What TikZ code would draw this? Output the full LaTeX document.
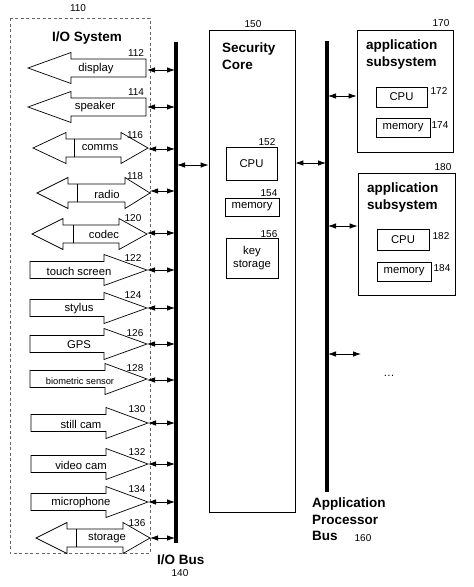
\documentclass[tikz,border=0pt]{standalone}
\usepackage{fontspec}
\setmainfont{Liberation Sans}
\usetikzlibrary{arrows.meta}
\newcommand\ioL[4]{% tip x, base x, right x, center y
  \draw[shp] (#1,#4) -- (#2,{#4-15.5}) -- (#2,{#4-9}) -- (#3,{#4-9}) -- (#3,{#4+9}) -- (#2,{#4+9}) -- (#2,{#4+15.5}) -- cycle;}
\newcommand\ioR[4]{% left x, base x, tip x, center y
  \draw[shp] (#1,{#4-8.5}) -- (#2,{#4-8.5}) -- (#2,{#4-15.5}) -- (#3,#4) -- (#2,{#4+15.5}) -- (#2,{#4+8.5}) -- (#1,{#4+8.5}) -- cycle;}
\newcommand\ioD[6]{% left tip, left base, divider, right base, right tip, center y
  \draw[shp] (#1,#6) -- (#2,{#6-15.5}) -- (#2,{#6-9}) -- (#4,{#6-9}) -- (#4,{#6-15.5}) -- (#5,#6) -- (#4,{#6+15.5}) -- (#4,{#6+9}) -- (#2,{#6+9}) -- (#2,{#6+15.5}) -- cycle;
  \draw[shp] (#3,{#6-9}) -- (#3,{#6+9});}
\begin{document}
\begin{tikzpicture}[x=1pt,y=-1pt,
  shp/.style={draw=black,line width=0.7pt,line join=miter},
  box/.style={draw=black,line width=0.7pt},
  bus/.style={line width=3.2pt,black},
  conn/.style={line width=0.8pt,{Latex[length=8pt,width=5.5pt]}-{Latex[length=8pt,width=5.5pt]}},
  num/.style={font=\fontsize{10}{12}\selectfont,inner sep=0pt},
  lbl/.style={font=\fontsize{11.3}{13}\selectfont,inner sep=0pt},
  ttl/.style={font=\fontsize{13.5}{17}\selectfont\bfseries,inner sep=0pt,align=left}]
\useasboundingbox (0,0) rectangle (474,587);
% I/O system frame
\draw[line width=0.7pt,gray!80!black,dash pattern=on 3pt off 2.5pt] (10,18) rectangle (150,553);
\node[num] (n110) at (78,8) {110};
\node[ttl] (iot) at (87,38) {I/O System};
% buses
\coordinate (iotop) at (176,42);
\coordinate (iobot) at (176,543);
\draw[bus] (iotop) -- (iobot);
\coordinate (aptop) at (327,41);
\coordinate (apbot) at (327,492);
\draw[bus] (aptop) -- (apbot);
\node[ttl,anchor=west] (iobus) at (157,560) {I/O Bus};
\node[num] (n140) at (180,573) {140};
\node[ttl,anchor=north west,font=\fontsize{13.5}{16.5}\selectfont\bfseries] (apbus) at (312,498) {Application\\Processor\\Bus};
\node[num] (n160) at (363,538) {160};
% I/O devices
\ioL{28}{71}{146}{68}
\node[lbl] (display) at (96,69) {display};
\node[num] (n112) at (136,53) {112};
\ioL{28}{71}{146}{107}
\node[lbl] (speaker) at (95,107) {speaker};
\node[num] (n114) at (136,92) {114};
\ioD{33}{66}{74}{121}{148}{148}
\node[lbl] (comms) at (100,148) {comms};
\node[num] (n116) at (135,135) {116};
\ioD{37}{68}{77}{125}{150}{193}
\node[lbl] (radio) at (107,194) {radio};
\node[num] (n118) at (135,176) {118};
\ioD{32}{63}{73}{119}{147}{234}
\node[lbl] (codec) at (104,234) {codec};
\node[num] (n120) at (133,218) {120};
\ioR{30}{104}{147}{270}
\node[lbl] (touch) at (79,271) {touch screen};
\node[num] (n122) at (133,258) {122};
\ioR{30}{104}{147}{308}
\node[lbl] (stylus) at (79,309) {stylus};
\node[num] (n124) at (133,295) {124};
\ioR{30}{104}{147}{344}
\node[lbl] (gps) at (79,345) {GPS};
\node[num] (n126) at (135,333) {126};
\ioR{30}{105}{147}{379}
\node[lbl,font=\fontsize{9.3}{11}\selectfont] (bio) at (80,381) {biometric sensor};
\node[num] (n128) at (135,368) {128};
\ioR{31}{106}{148}{423}
\node[lbl] (still) at (81,424) {still cam};
\node[num] (n130) at (137,409) {130};
\ioR{31}{106}{148}{464}
\node[lbl] (video) at (81,465) {video cam};
\node[num] (n132) at (137,452) {132};
\ioR{31}{106}{148}{502}
\node[lbl] (micro) at (81,503) {microphone};
\node[num] (n134) at (137,489) {134};
\ioD{36}{67}{76}{123}{150}{538}
\node[lbl] (storage) at (107,538) {storage};
\node[num] (n136) at (137,523) {136};
% I/O connectors
\foreach \yy/\xx in {70/147,107/147,149/148,191/150,233/147,270/147,308/147,344/147,380/147,423/148,464/148,502/148,538/150}{
  \coordinate (a) at (\xx,\yy);
  \coordinate (b) at (175,\yy);
  \draw[conn] (a) -- (b);
}
% Security core
\node[box,minimum width=86pt,minimum height=482pt,inner sep=0pt] (core) at (252,271) {};
\node[num] (n150) at (253,24) {150};
\node[ttl,anchor=north west] (coret) at (222,43) {Security\\Core};
\node[box,lbl,minimum width=51pt,minimum height=33pt] (ccpu) at (251.5,163.5) {CPU};
\node[num] (n152) at (267,142) {152};
\node[box,lbl,minimum width=54pt,minimum height=18pt] (cmem) at (252,207) {memory};
\node[num] (n154) at (269,193) {154};
\node[box,lbl,minimum width=52pt,minimum height=40pt,align=center] (ckey) at (252,258) {key\\storage};
\node[num] (n156) at (269,234) {156};
\coordinate (c1) at (177,165);
\draw[conn] (c1) -- (core.west |- c1);
\coordinate (c2) at (326,163);
\draw[conn] (core.east |- c2) -- (c2);
% application subsystem 170
\node[box,minimum width=96pt,minimum height=122pt,inner sep=0pt] (app1) at (405,91) {};
\node[num] (n170) at (441,23) {170};
\node[ttl,anchor=north west] (app1t) at (366,40) {application\\subsystem};
\node[box,lbl,minimum width=51pt,minimum height=20pt] (a1cpu) at (401.5,97) {CPU};
\node[num] (n172) at (439,91) {172};
\node[box,lbl,minimum width=54pt,minimum height=19pt] (a1mem) at (403,127.5) {memory};
\node[num] (n174) at (440,125) {174};
\coordinate (d1) at (328,96);
\draw[conn] (d1) -- (app1.west |- d1);
% application subsystem 180
\node[box,minimum width=97pt,minimum height=122pt,inner sep=0pt] (app2) at (406.5,234) {};
\node[num] (n180) at (443,167) {180};
\node[ttl,anchor=north west] (app2t) at (367,183) {application\\subsystem};
\node[box,lbl,minimum width=52pt,minimum height=21pt] (a2cpu) at (403,239.5) {CPU};
\node[num] (n182) at (441,236) {182};
\node[box,lbl,minimum width=54pt,minimum height=19pt] (a2mem) at (404,271.5) {memory};
\node[num] (n184) at (442,268) {184};
\coordinate (d2) at (328,226);
\draw[conn] (d2) -- (app2.west |- d2);
% further subsystem
\coordinate (d3) at (328,354);
\coordinate (d3e) at (361,354);
\draw[conn] (d3) -- (d3e);
\node[lbl] (dots) at (389,376) {\dots};
\end{tikzpicture}
\end{document}
